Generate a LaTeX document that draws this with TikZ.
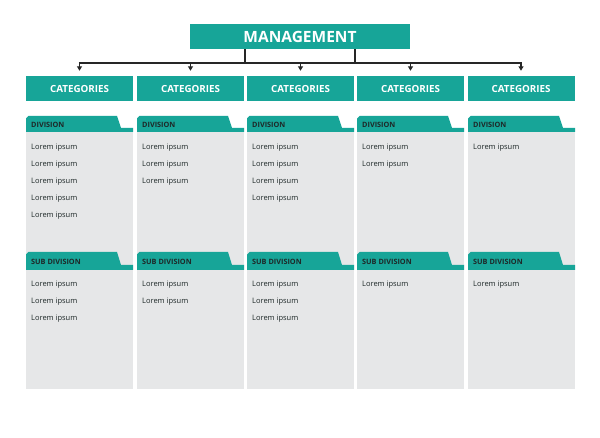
\documentclass[tikz,border=0pt]{standalone}
\usepackage{fontspec}
\setmainfont{Open Sans}
\usetikzlibrary{arrows.meta}
\definecolor{tealc}{RGB}{23,165,152}
\definecolor{panelc}{RGB}{230,231,232}
\definecolor{darkc}{RGB}{30,40,40}
\begin{document}
\begin{tikzpicture}[x=1pt,y=-1pt,
  headbox/.style={fill=tealc,text=white,font=\fontsize{15.5}{16}\selectfont\bfseries,inner sep=0pt,minimum width=220pt,minimum height=25pt},
  catbox/.style={fill=tealc,text=white,font=\fontsize{9.8}{10}\selectfont\bfseries,inner sep=0pt,minimum width=107pt,minimum height=25pt},
  tablabel/.style={anchor=west,text=darkc,font=\fontsize{7.3}{8}\selectfont\bfseries,inner sep=0pt},
  itemtext/.style={anchor=west,text=darkc,font=\fontsize{7.5}{8}\selectfont,inner sep=0pt},
  conn/.style={draw=black!85,line width=1.3pt},
  tabshape/.style={fill=tealc}]
\useasboundingbox (0,0) rectangle (600,438);
\fill[white] (0,0) rectangle (600,438);
% management
\node[headbox] (mgmt) at (300,36.5) {MANAGEMENT};
% categories
\foreach \i/\x in {1/79.5,2/190.5,3/300.5,4/410.5,5/521}{
  \node[catbox] (cat\i) at (\x,88.5) {CATEGORIES};
}
% connectors
\coordinate (busL) at (cat1.north |- 0,63);
\coordinate (busR) at (cat5.north |- 0,63);
\coordinate (ma) at ([xshift=-55pt]mgmt.south);
\coordinate (mb) at ([xshift=55pt]mgmt.south);
\draw[conn] (ma) -- (ma |- busL);
\draw[conn] (mb) -- (mb |- busL);
\draw[conn] ([xshift=-0.6pt]busL) -- ([xshift=0.6pt]busR);
\foreach \i in {1,...,5}{
  \draw[conn,-{Triangle[length=4.5pt,width=5pt]}] (cat\i.north |- busL) -- ([yshift=5pt]cat\i.north);
}
% columns
\foreach \i/\L/\nd/\ns in {1/26/5/3,2/137/3/2,3/247/4/3,4/357/2/1,5/468/1/1}{
  \fill[panelc] (\L,132) rectangle (\L+107,389);
  \fill[tabshape] (\L,118.5) -- (\L+2.5,116) -- (\L+91,116) -- (\L+95,128) -- (\L+107,128) -- (\L+107,132) -- (\L,132) -- cycle;
  \node[tablabel] (div\i) at (\L+5,125) {DIVISION};
  \foreach \j in {1,...,\nd}{
    \node[itemtext] (d\i-\j) at (\L+5,147.5+17*\j-17) {Lorem ipsum};
  }
  \fill[tabshape] (\L,254.5) -- (\L+2.5,252) -- (\L+91,252) -- (\L+95,265) -- (\L+107,265) -- (\L+107,270) -- (\L,270) -- cycle;
  \node[tablabel] (sub\i) at (\L+5,262) {SUB DIVISION};
  \foreach \j in {1,...,\ns}{
    \node[itemtext] (s\i-\j) at (\L+5,284.5+17*\j-17) {Lorem ipsum};
  }
}
\end{tikzpicture}
\end{document}
